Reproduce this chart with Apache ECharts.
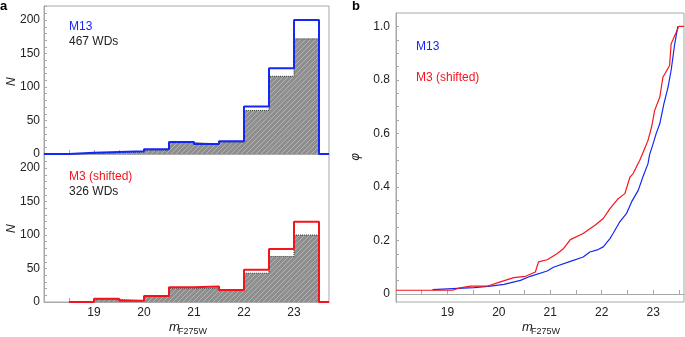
<!DOCTYPE html>
<html lang="en">
<head>
  <meta charset="UTF-8">
  <title>WD luminosity functions</title>
  <style>
    html, body, #chart {
      margin: 0;
      padding: 0;
      width: 685px;
      height: 337px;
      background: #fff;
    }
  </style>
</head>
<body>
  <div id="chart"></div>
</body>
<script src="https://cdn.jsdelivr.net/npm/echarts@6/dist/echarts.min.js"></script>
<script>
  // 0.5 mag bins in m_F275W
  var binEdges = [18.5, 19, 19.5, 20, 20.5, 21, 21.5, 22, 22.5, 23, 23.5]
  var m13Counts = [2, 3, 4, 7, 18, 15, 19, 71, 128, 200]
  var m13Shaded = [1, 2, 3, 6, 17, 15, 18, 65, 116, 172]
  var m3Counts = [0, 5, 2, 9, 22, 23, 18, 48, 79, 120]
  var m3Shaded = [0, 4, 2, 8, 20, 21, 17, 43, 68, 100]

  // cumulative distributions, [m, phi]
  var m13Cdf = [
    [18.71, 0.016], [19.1, 0.02], [19.52, 0.024], [19.84, 0.029], [20.1, 0.036],
    [20.42, 0.051], [20.61, 0.066], [20.94, 0.086], [21.06, 0.1], [21.39, 0.122],
    [21.64, 0.138], [21.77, 0.157], [21.93, 0.166], [22.03, 0.176], [22.16, 0.207],
    [22.22, 0.226], [22.35, 0.269], [22.48, 0.3], [22.58, 0.344], [22.71, 0.387],
    [22.8, 0.437], [22.9, 0.487], [22.93, 0.52], [23.0, 0.562], [23.06, 0.6],
    [23.13, 0.637], [23.21, 0.711], [23.29, 0.773], [23.35, 0.836], [23.42, 0.935],
    [23.48, 1.0]
  ]
  var m3Cdf = [
    [18.0, 0.014], [19.1, 0.014], [19.22, 0.022], [19.45, 0.029], [19.77, 0.029],
    [20.03, 0.045], [20.29, 0.061], [20.52, 0.066], [20.71, 0.082], [20.77, 0.12],
    [20.94, 0.128], [21.13, 0.15], [21.26, 0.17], [21.39, 0.203], [21.64, 0.226],
    [21.77, 0.244], [21.87, 0.257], [22.03, 0.282], [22.16, 0.319], [22.32, 0.356],
    [22.45, 0.375], [22.55, 0.437], [22.61, 0.45], [22.74, 0.5], [22.85, 0.55],
    [22.9, 0.574], [22.97, 0.624], [23.03, 0.686], [23.13, 0.736], [23.19, 0.81],
    [23.32, 0.854], [23.35, 0.935], [23.5, 1.0], [23.6, 1.0]
  ]

  var xTickLabels = [19, 20, 21, 22, 23]
  var xTicks = [18.5, 19, 19.5, 20, 20.5, 21, 21.5, 22, 22.5, 23, 23.5]
  var nTickLabels = [0, 50, 100, 150, 200]
  var nTicks = [0, 10, 20, 30, 40, 50, 60, 70, 80, 90, 100, 110, 120, 130, 140, 150, 160, 170, 180, 190, 200, 210, 220]
  var phiTickLabels = [0, 0.2, 0.4, 0.6, 0.8, 1.0]
  var phiTicks = [0, 0.05, 0.1, 0.15, 0.2, 0.25, 0.3, 0.35, 0.4, 0.45, 0.5, 0.55, 0.6, 0.65, 0.7, 0.75, 0.8, 0.85, 0.9, 0.95, 1.0]

  var BLUE = '#1428f5'
  var RED = '#f5141e'
  var FRAME = '#a8a8a8'
  var FONT = 'Liberation Sans'

  // outline of a histogram as a polyline over the bin edges
  function histLine (counts, from, to) {
    var pts = []
    if (from !== undefined) pts.push([from, 0])
    pts.push([binEdges[0], 0])
    counts.forEach(function (c, i) {
      pts.push([binEdges[i], c])
      pts.push([binEdges[i + 1], c])
    })
    pts.push([binEdges[binEdges.length - 1], 0])
    if (to !== undefined) pts.push([to, 0])
    return pts
  }

  // grey hatched fill
  var hatch = document.createElement('canvas')
  hatch.width = 5
  hatch.height = 5
  var hctx = hatch.getContext('2d')
  hctx.fillStyle = '#8e8e8e'
  hctx.fillRect(0, 0, 5, 5)
  hctx.strokeStyle = '#b4b4b4'
  hctx.lineWidth = 1
  hctx.beginPath()
  hctx.moveTo(-1, 6); hctx.lineTo(6, -1)
  hctx.moveTo(-1, 1); hctx.lineTo(1, -1)
  hctx.moveTo(4, 6); hctx.lineTo(6, 4)
  hctx.stroke()

  function xAxisFor (gridIndex, min, max, showLabels) {
    return {
      type: 'value', gridIndex: gridIndex, min: min, max: max,
      axisLine: {show: true, lineStyle: {color: FRAME}},
      axisTick: {show: true, inside: true, length: 4, customValues: xTicks, lineStyle: {color: FRAME}},
      axisLabel: {show: showLabels, customValues: xTickLabels, color: '#222', fontSize: 12, fontFamily: FONT, margin: 5},
      splitLine: {show: false}
    }
  }

  function nAxisFor (gridIndex) {
    return {
      type: 'value', gridIndex: gridIndex, min: 0, max: 221,
      axisLine: {show: true, lineStyle: {color: FRAME}},
      axisTick: {show: true, inside: true, length: 3, customValues: nTicks, lineStyle: {color: FRAME}},
      axisLabel: {customValues: nTickLabels, color: '#222', fontSize: 12, fontFamily: FONT, margin: 4},
      splitLine: {show: false}
    }
  }

  function shaded (counts, idx) {
    return {
      type: 'line', xAxisIndex: idx, yAxisIndex: idx,
      data: histLine(counts),
      symbol: 'none', silent: true,
      lineStyle: {color: '#333', width: 1, type: 'dotted'},
      areaStyle: {color: {image: hatch, repeat: 'repeat'}, opacity: 1},
      z: 2
    }
  }

  function outline (counts, idx, color, from, to) {
    return {
      type: 'line', xAxisIndex: idx, yAxisIndex: idx,
      data: histLine(counts, from, to),
      symbol: 'none', silent: true,
      lineStyle: {color: color, width: 2},
      z: 3
    }
  }

  function txt (x, y, text, style) {
    return {
      type: 'text', left: x, top: y, silent: true,
      style: Object.assign({text: text, fontSize: 12, fontFamily: FONT, fill: '#222'}, style || {})
    }
  }

  var chart = echarts.init(document.getElementById('chart'), null, {renderer: 'canvas'})
  chart.setOption({
    animation: false,
    backgroundColor: '#fff',
    grid: [
      {left: 44, top: 6, width: 285, height: 148, show: true, borderColor: FRAME, borderWidth: 1},
      {left: 44, top: 154, width: 285, height: 148, show: true, borderColor: FRAME, borderWidth: 1},
      {left: 396, top: 13, width: 288, height: 289, show: true, borderColor: FRAME, borderWidth: 1}
    ],
    xAxis: [
      xAxisFor(0, 18, 23.7, false),
      xAxisFor(1, 18, 23.7, true),
      xAxisFor(2, 18, 23.6, true)
    ],
    yAxis: [
      nAxisFor(0),
      nAxisFor(1),
      {
        type: 'value', gridIndex: 2, min: -0.03, max: 1.05,
        axisLine: {show: true, lineStyle: {color: FRAME}},
        axisTick: {show: true, inside: true, length: 3, customValues: phiTicks, lineStyle: {color: FRAME}},
        axisLabel: {
          customValues: phiTickLabels, color: '#222', fontSize: 12, fontFamily: FONT, margin: 6,
          formatter: function (v) { return v === 0 ? '0' : v.toFixed(1) }
        },
        splitLine: {show: false}
      }
    ],
    series: [
      shaded(m13Shaded, 0),
      outline(m13Counts, 0, BLUE, 18, 23.7),
      shaded(m3Shaded, 1),
      outline(m3Counts, 1, RED, undefined, 23.7),
      {
        type: 'line', xAxisIndex: 2, yAxisIndex: 2, data: m13Cdf,
        symbol: 'none', silent: true, lineStyle: {color: BLUE, width: 1.2}
      },
      {
        type: 'line', xAxisIndex: 2, yAxisIndex: 2, data: m3Cdf,
        symbol: 'none', silent: true, lineStyle: {color: RED, width: 1.2}
      }
    ],
    graphic: [
      txt(0, 0, 'a', {fontWeight: 'bold', fontSize: 13, fill: '#000'}),
      txt(352, 0, 'b', {fontWeight: 'bold', fontSize: 13, fill: '#000'}),
      txt(69, 21, 'M13', {fill: BLUE}),
      txt(69, 36, '467 WDs'),
      txt(69, 171, 'M3 (shifted)', {fill: RED}),
      txt(69, 186, '326 WDs'),
      txt(416, 41, 'M13', {fill: BLUE}),
      txt(416, 72, 'M3 (shifted)', {fill: RED}),
      {type: 'text', x: 6, y: 86, rotation: Math.PI / 2, silent: true,
        style: {text: 'N', fontSize: 12, fontStyle: 'italic', fontFamily: FONT, fill: '#222'}},
      {type: 'text', x: 6, y: 233, rotation: Math.PI / 2, silent: true,
        style: {text: 'N', fontSize: 12, fontStyle: 'italic', fontFamily: FONT, fill: '#222'}},
      {type: 'text', x: 350, y: 161, rotation: Math.PI / 2, silent: true,
        style: {text: 'φ', fontSize: 12, fontStyle: 'italic', fontFamily: 'DejaVu Sans', fill: '#222'}},
      txt(169, 321, 'm', {fontStyle: 'italic', fontSize: 13}),
      txt(178, 327, 'F275W', {fontSize: 9}),
      txt(522, 321, 'm', {fontStyle: 'italic', fontSize: 13}),
      txt(531, 327, 'F275W', {fontSize: 9})
    ]
  })
</script>
</html>
